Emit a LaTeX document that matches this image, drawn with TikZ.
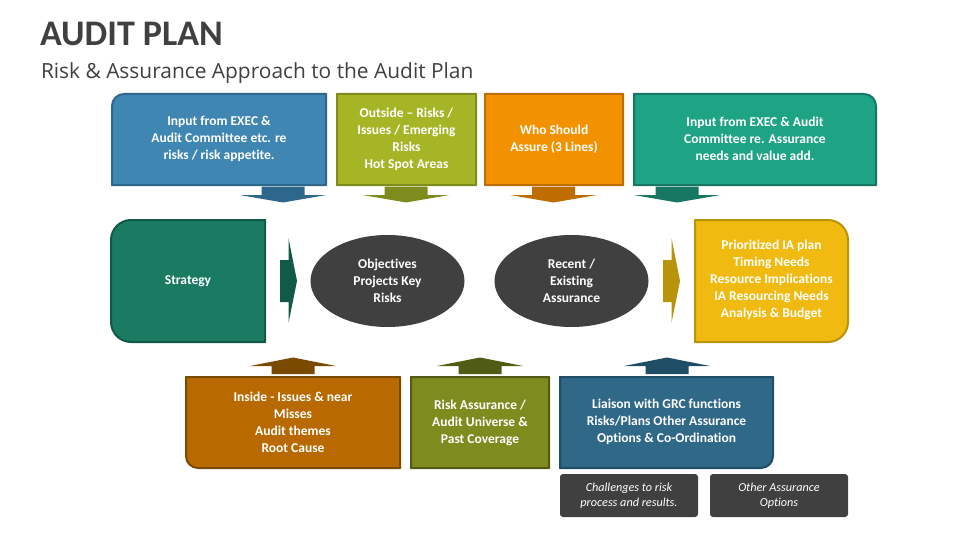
\documentclass[tikz,border=0pt]{standalone}
\usepackage{fontspec}
\setmainfont[Ligatures=NoCommon]{Carlito}
\newfontfamily\subfont{Open Sans}
\usetikzlibrary{shapes.geometric}
\definecolor{txtgray}{HTML}{404040}
\definecolor{bAfill}{HTML}{3F87B2}\definecolor{bAline}{HTML}{2E678C}
\definecolor{bBfill}{HTML}{A6B526}\definecolor{bBline}{HTML}{7E8C1E}
\definecolor{bCfill}{HTML}{F39200}\definecolor{bCline}{HTML}{BE6E00}
\definecolor{bDfill}{HTML}{1EA385}\definecolor{bDline}{HTML}{167862}
\definecolor{stfill}{HTML}{1A7A62}\definecolor{stline}{HTML}{125A48}
\definecolor{gdfill}{HTML}{F0BA10}\definecolor{gdline}{HTML}{B8940A}
\definecolor{lAfill}{HTML}{B86A00}\definecolor{lAline}{HTML}{7A4A00}
\definecolor{lBfill}{HTML}{7E8B1E}\definecolor{lBline}{HTML}{505C14}
\definecolor{lCfill}{HTML}{306888}\definecolor{lCline}{HTML}{1F4D66}
\definecolor{ovgray}{HTML}{404040}
\newcommand\cornerbox[9]{\draw[#1] (#2,#3+#6) arc[start angle=180,end angle=270,radius=#6] -- (#4-#7,#3) arc[start angle=270,end angle=360,radius=#7] -- (#4,#5-#8) arc[start angle=0,end angle=90,radius=#8] -- (#2+#9,#5) arc[start angle=90,end angle=180,radius=#9] -- cycle;}
\newcommand\dnarrowshape[2]{\fill[#1] (#2-21.5,186.5) -- (#2+21.5,186.5) -- (#2+21.5,195) -- (#2+43.5,195) -- (#2,202.5) -- (#2-43.5,195) -- (#2-21.5,195) -- cycle;}
\newcommand\uparrowshape[2]{\fill[#1] (#2-21.5,374) -- (#2+21.5,374) -- (#2+21.5,366) -- (#2+43,366) -- (#2,357.5) -- (#2-43,366) -- (#2-21.5,366) -- cycle;}
\newcommand\rtarrowshape[3]{\fill[#1] (#2,260) -- (#3-8.5,260) -- (#3-8.5,238) -- (#3,281) -- (#3-8.5,323) -- (#3-8.5,302) -- (#2,302) -- cycle;}
\tikzset{
  boxtxt/.style={text=white, align=center, font=\bfseries\fontsize{13.5}{17}\selectfont, inner sep=0pt},
  noteTxt/.style={text=white, align=center, font=\itshape\fontsize{12.2}{15.5}\selectfont, inner sep=0pt},
  ov/.style={ellipse, fill=ovgray, minimum width=154pt, minimum height=92pt, inner sep=0pt}
}
\begin{document}
\begin{tikzpicture}[x=1pt,y=-1pt,line width=2pt]
\useasboundingbox (0,0) rectangle (960,540);
% titles
\node[anchor=base west, inner sep=0pt, text=txtgray, font=\bfseries\fontsize{36}{40}\selectfont] (title) at (39,46) {AUDIT PLAN};
\node[anchor=base west, inner sep=0pt, text=txtgray, font=\subfont\fontsize{20.9}{24}\selectfont] (subtitle) at (40,79) {Risk \& Assurance Approach to the Audit Plan};
% top boxes
\cornerbox{fill=bAfill,draw=bAline}{112}{94}{326}{185}{12}{0.01}{0.01}{0.01}
\cornerbox{fill=bBfill,draw=bBline}{337}{94}{476}{185}{0.01}{0.01}{0.01}{0.01}
\cornerbox{fill=bCfill,draw=bCline}{485}{94}{623}{185}{0.01}{0.01}{0.01}{0.01}
\cornerbox{fill=bDfill,draw=bDline}{634}{94}{876}{185}{0.01}{12}{0.01}{0.01}
\node[boxtxt] (t1) at (219,139) {Input from EXEC \&\\Audit Committee etc. re\\risks / risk appetite.};
\node[boxtxt] (t2) at (406.5,139) {Outside – Risks /\\Issues / Emerging\\Risks\\Hot Spot Areas};
\node[boxtxt] (t3) at (554,139) {Who Should\\Assure (3 Lines)};
\node[boxtxt] (t4) at (755,139) {Input from EXEC \& Audit\\Committee re. Assurance\\needs and value add.};
\dnarrowshape{bAline}{283}
\dnarrowshape{bBline}{406}
\dnarrowshape{bCline}{553.5}
\dnarrowshape{bDline}{677}
% middle row
\cornerbox{fill=stfill,draw=stline}{111}{220}{265}{342}{20}{0.01}{0.01}{20}
\node[boxtxt] (strategy) at (188,281) {Strategy};
\rtarrowshape{stline}{280}{297}
\node[ov, boxtxt] (obj) at (387.5,281) {Objectives\\Projects Key\\Risks};
\node[ov, boxtxt] (rec) at (571.5,281) {Recent /\\Existing\\Assurance};
\rtarrowshape{gdline}{663}{680}
\cornerbox{fill=gdfill,draw=gdline}{695}{220}{848}{342}{0.01}{20}{20}{0.01}
\node[boxtxt] (plan) at (771.5,280) {Prioritized IA plan\\Timing Needs\\Resource Implications\\IA Resourcing Needs\\Analysis \& Budget};
% bottom row
\uparrowshape{lAline}{293}
\uparrowshape{lBline}{480}
\uparrowshape{lCline}{667}
\cornerbox{fill=lAfill,draw=lAline}{186}{377}{400}{468}{0.01}{0.01}{0.01}{12}
\cornerbox{fill=lBfill,draw=lBline}{411}{377}{549}{468}{0.01}{0.01}{0.01}{0.01}
\cornerbox{fill=lCfill,draw=lCline}{560}{377}{773}{468}{0.01}{0.01}{12}{0.01}
\node[boxtxt] (b1) at (293,422.5) {Inside - Issues \& near\\Misses\\Audit themes\\Root Cause};
\node[boxtxt] (b2) at (480,422.5) {Risk Assurance /\\Audit Universe \&\\Past Coverage};
\node[boxtxt] (b3) at (666.5,422) {Liaison with GRC functions\\Risks/Plans Other Assurance\\Options \& Co-Ordination};
% notes
\fill[ovgray, rounded corners=3pt] (560,474) rectangle (698,517);
\fill[ovgray, rounded corners=3pt] (710,474) rectangle (848,517);
\node[noteTxt] (n1) at (629,495.5) {Challenges to risk\\process and results.};
\node[noteTxt] (n2) at (779,495.5) {Other Assurance\\Options};
\end{tikzpicture}
\end{document}
